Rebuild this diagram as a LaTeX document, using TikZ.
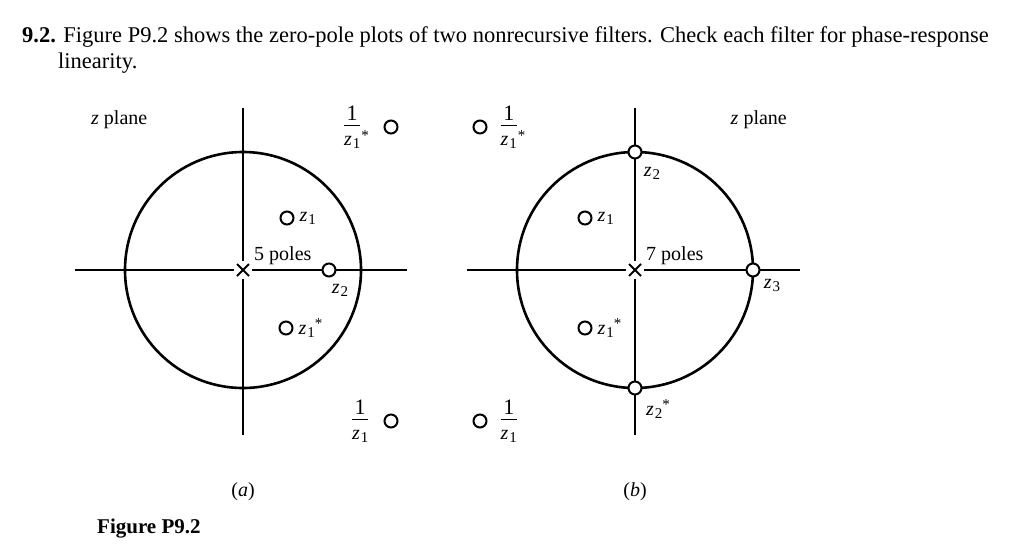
\documentclass[tikz,border=0pt]{standalone}
\usepackage{amsmath}
\usepackage{fontspec}
\setmainfont{Liberation Serif}
\begin{document}
\begin{tikzpicture}[x=1pt,y=-1pt,
  ax/.style={line width=1.1pt},
  uc/.style={line width=2.6pt},
  zero/.style={circle,draw,line width=2pt,minimum size=13pt,inner sep=0pt,fill=white},
  lbl/.style={font=\fontsize{20}{22}\selectfont,inner sep=1pt},
  txt/.style={font=\fontsize{22.5}{26}\selectfont,anchor=base west,inner sep=0pt}]
\useasboundingbox (0,0) rectangle (1019,546);
\newcommand{\zs}[1]{\textit{z}\kern1pt\raisebox{-3pt}{\fontsize{15}{15}\selectfont #1}}
\newcommand{\zss}[1]{\textit{z}\kern1pt\raisebox{-3pt}{\fontsize{15}{15}\selectfont #1}\raisebox{6pt}{\fontsize{15}{15}\selectfont *}}
\newcommand{\zsr}[1]{\textit{z}\kern1pt\raisebox{-3pt}{\fontsize{15}{15}\selectfont #1}\rlap{\raisebox{5pt}{\fontsize{15}{15}\selectfont\kern1pt *}}}
\newcommand{\fr}[1]{\begin{tabular}{@{}c@{}}{\fontsize{22}{22}\selectfont 1}\\[-3pt]\hline\rule{0pt}{21pt}#1\end{tabular}}
% header
\node[txt] (h1) at (22,42) {\textbf{9.2.} Figure P9.2 shows the zero-pole plots of two nonrecursive filters. Check each filter for phase-response};
\node[txt] (h2) at (58,68) {linearity.};
% ---------- (a)
\coordinate (ca) at (243,270);
\draw[ax] (75,270) -- (407,270);
\draw[ax] (243,108) -- (243,435);
\draw[uc] (ca) circle (118);
\draw[line width=2pt,white,fill=white] (ca) circle (8);
\draw[line width=1.8pt] ([shift={(-6,-6)}]ca) -- ([shift={(6,6)}]ca) ([shift={(-6,6)}]ca) -- ([shift={(6,-6)}]ca);
\node[lbl,anchor=south west] (pa) at (253,266) {5 poles};
\node[zero] (a1) at (287,218) {};
\node[lbl,anchor=west] at ([xshift=4pt]a1.east) {\zs{1}};
\node[zero] (a2) at (329,270) {};
\node[lbl] at (340,290) {\zs{2}};
\node[zero] (a3) at (286,328) {};
\node[lbl,anchor=west] at ([xshift=4pt]a3.east) {\zss{1}};
\node[zero] (a4) at (391,127) {};
\node[lbl,anchor=east] at ([xshift=-22pt,yshift=-2pt]a4.west) {\fr{\zsr{1}}};
\node[zero] (a5) at (391,421) {};
\node[lbl,anchor=east] at ([xshift=-14pt,yshift=-2pt]a5.west) {\fr{\zs{1}}};
\node[lbl,anchor=west] (pla) at (90,120) {\textit{z} plane};
\node[lbl] (la) at (243,492) {(\textit{a})};
% ---------- (b)
\coordinate (cb) at (635,270);
\draw[ax] (467,270) -- (800,270);
\draw[ax] (635,108) -- (635,435);
\draw[uc] (cb) circle (118);
\draw[line width=2pt,white,fill=white] (cb) circle (8);
\draw[line width=1.8pt] ([shift={(-6,-6)}]cb) -- ([shift={(6,6)}]cb) ([shift={(-6,6)}]cb) -- ([shift={(6,-6)}]cb);
\node[lbl,anchor=south west] (pb) at (645,266) {7 poles};
\node[zero] (b1) at (585,218) {};
\node[lbl,anchor=west] at ([xshift=4pt]b1.east) {\zs{1}};
\node[zero] (b2) at (635,152) {};
\node[lbl] at (652,173) {\zs{2}};
\node[zero] (b3) at (585,328) {};
\node[lbl,anchor=west] at ([xshift=4pt]b3.east) {\zss{1}};
\node[zero] (b4) at (635,388) {};
\node[lbl] at (658,409) {\zss{2}};
\node[zero] (b5) at (753,270) {};
\node[lbl] at (772,285) {\zs{3}};
\node[zero] (b6) at (480,127) {};
\node[lbl,anchor=west] at ([xshift=12pt,yshift=-2pt]b6.east) {\fr{\zsr{1}}};
\node[zero] (b7) at (480,421) {};
\node[lbl,anchor=west] at ([xshift=12pt,yshift=-2pt]b7.east) {\fr{\zs{1}}};
\node[lbl,anchor=east] (plb) at (788,120) {\textit{z} plane};
\node[lbl] (lb) at (635,492) {(\textit{b})};
\node[txt,font=\fontsize{21}{24}\selectfont] (fig) at (97,533) {\textbf{Figure P9.2}};
\end{tikzpicture}
\end{document}
